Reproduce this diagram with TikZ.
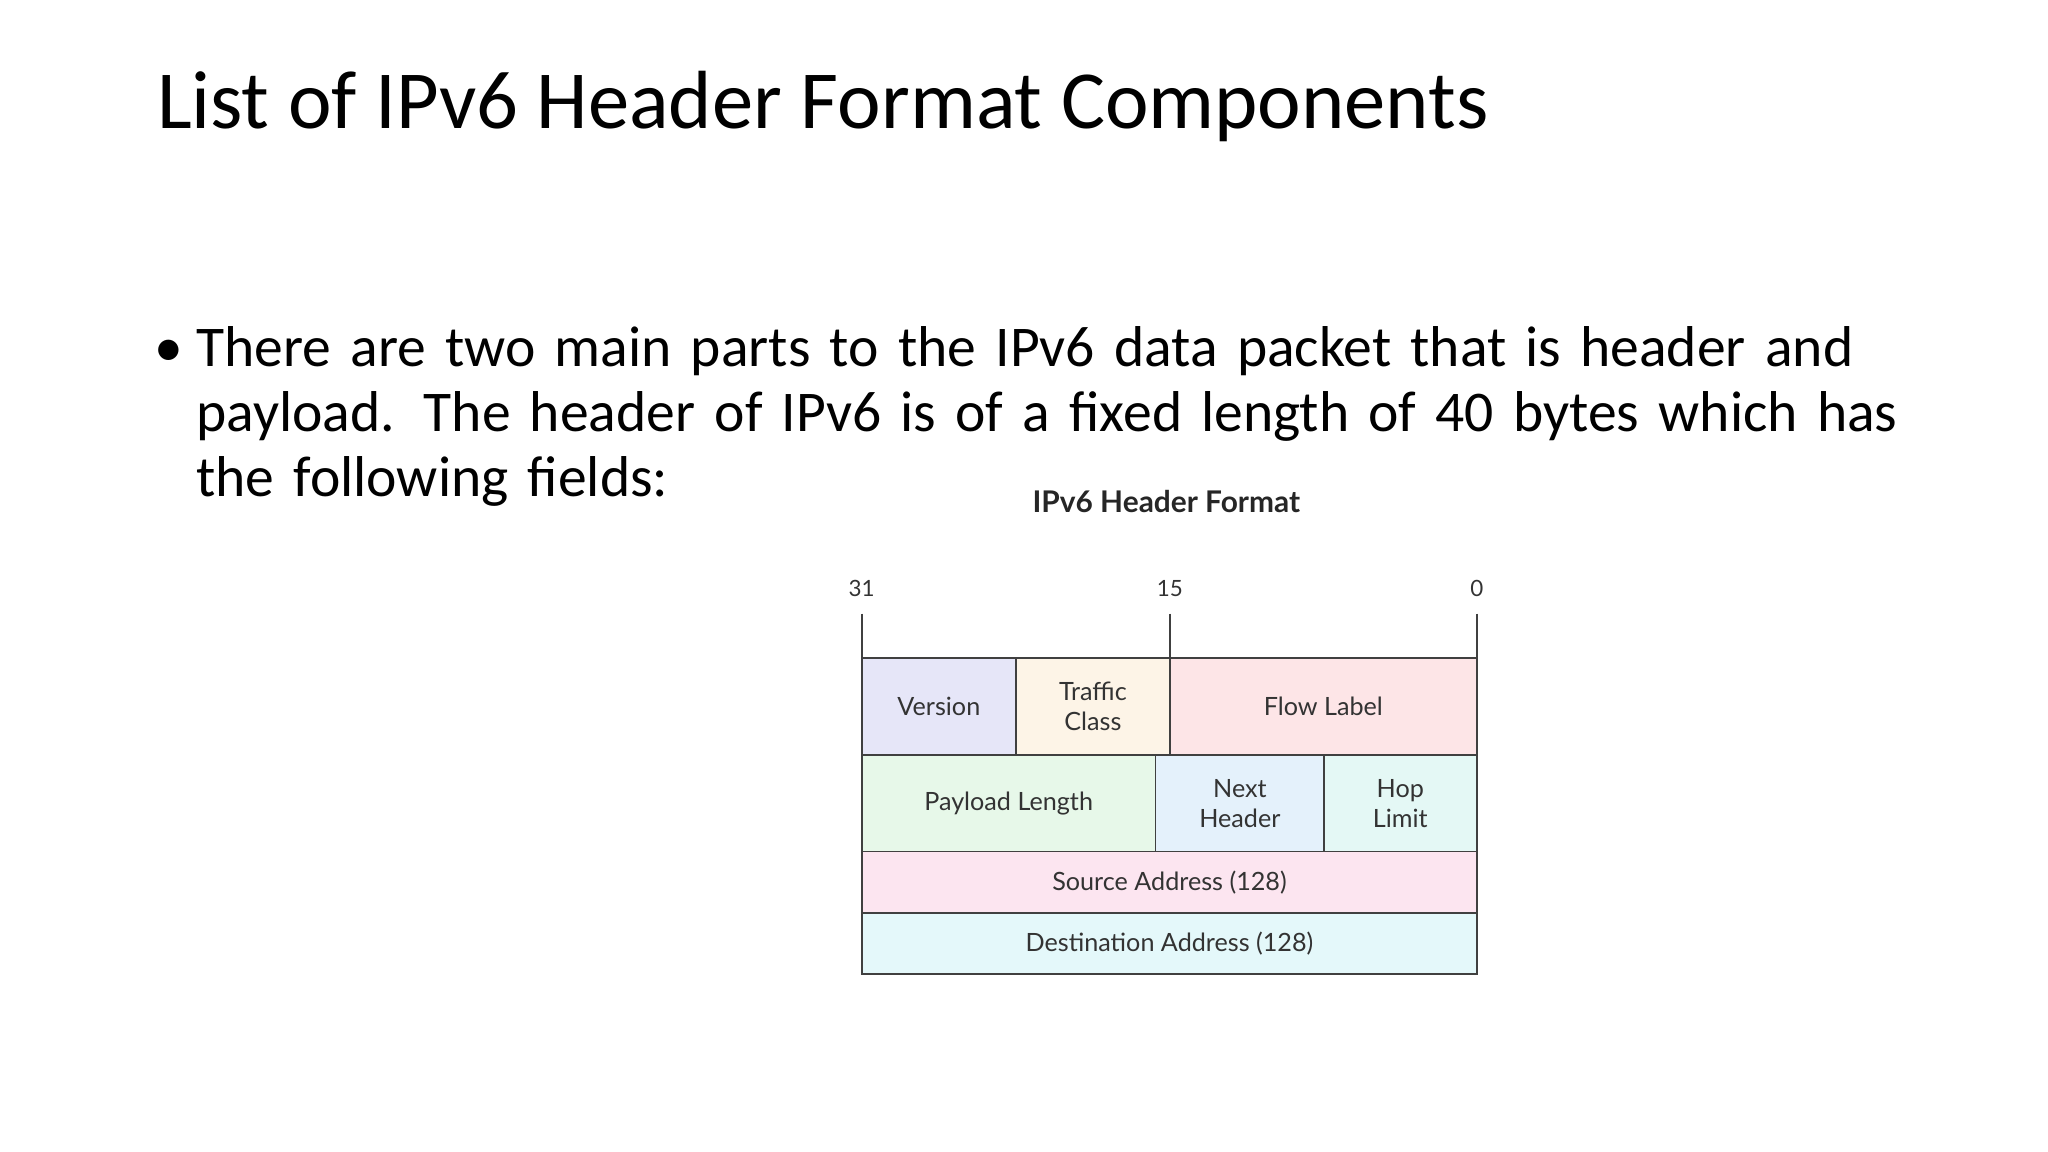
\documentclass[tikz,border=0pt]{standalone}
\usepackage{fontspec}
\setmainfont{Carlito}
\newfontfamily\diag{Lato}
\begin{document}
\begin{tikzpicture}[x=1pt,y=1pt,
  cell/.style={draw=black!75,line width=0.8pt},
  lab/.style={font=\diag\fontsize{11.8}{14}\selectfont,text=black!80,align=center},
  num/.style={font=\diag\fontsize{10.5}{12}\selectfont,text=black!80}]
\useasboundingbox (0,0) rectangle (960,540);
\definecolor{cver}{HTML}{E6E6F8}
\definecolor{ctra}{HTML}{FDF4E7}
\definecolor{cflo}{HTML}{FDE5E7}
\definecolor{cpay}{HTML}{E7F8E9}
\definecolor{cnex}{HTML}{E4F1FB}
\definecolor{chop}{HTML}{E4F8F5}
\definecolor{csrc}{HTML}{FCE5F0}
\definecolor{cdst}{HTML}{E4F8FA}
\node[anchor=base west,inner sep=0,font=\fontsize{38.7}{44}\selectfont] (title) at (73.4,479.7) {List of IPv6 Header Format Components};
\node[anchor=base west,inner sep=0,font=\fontsize{27}{30}\selectfont] (bul) at (72,368) {\textbullet};
\node[anchor=base west,inner sep=0,align=left,text width=840pt,font=\fontsize{27}{30.4}\selectfont] (body) at (91.8,368) {There are two main parts to the IPv6 data packet that is header and\\payload. The header of IPv6 is of a fixed length of 40 bytes which has\\the following fields:};
\node[font=\diag\bfseries\fontsize{14}{16}\selectfont,text=black!85,anchor=base] (dt) at (546.7,299.7) {IPv6 Header Format};
\node[num] (n31) at (403.9,264.2) {31};
\node[num] (n15) at (548.4,264.2) {15};
\node[num] (n0) at (692.3,264.2) {0};
\coordinate (t31) at (403.9,252.3);
\coordinate (t15) at (548.4,252.3);
\coordinate (t0) at (692.3,252.3);
\path[cell,fill=cver] (403.9,231.5) rectangle (476.2,186.2);
\path[cell,fill=ctra] (476.2,231.5) rectangle (548.4,186.2);
\path[cell,fill=cflo] (548.4,231.5) rectangle (692.3,186.2);
\path[cell,fill=cpay] (403.9,186.2) rectangle (541.6,140.9);
\path[cell,fill=cnex] (541.6,186.2) rectangle (620.6,140.9);
\path[cell,fill=chop] (620.6,186.2) rectangle (692.3,140.9);
\path[cell,fill=csrc] (403.9,140.9) rectangle (692.3,112.1);
\path[cell,fill=cdst] (403.9,112.1) rectangle (692.3,83.4);
\draw[cell] (t31) -- (403.9,231.5);
\draw[cell] (t15) -- (548.4,231.5);
\draw[cell] (t0) -- (692.3,231.5);
\node[lab] (ver) at (440.1,208.8) {Version};
\node[lab] (tra) at (512.3,208.8) {Traffic\\Class};
\node[lab] (flo) at (620.3,208.8) {Flow Label};
\node[lab] (pay) at (472.8,163.5) {Payload Length};
\node[lab] (nex) at (581.2,163.5) {Next\\Header};
\node[lab] (hop) at (656.4,163.5) {Hop\\Limit};
\node[lab] (src) at (548.2,126.5) {Source Address (128)};
\node[lab] (dst) at (548.2,97.7) {Destination Address (128)};
\end{tikzpicture}
\end{document}
